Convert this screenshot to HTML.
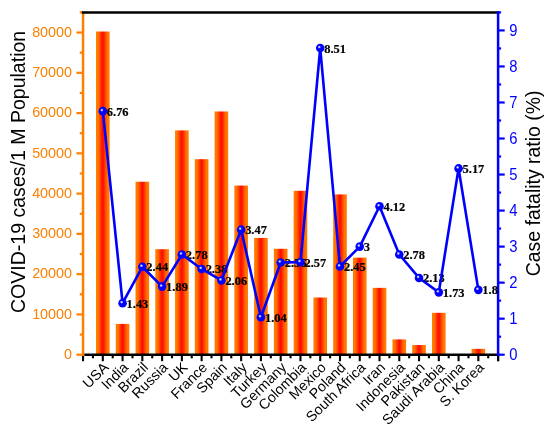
<!DOCTYPE html>
<html><head><meta charset="utf-8"><title>COVID-19 cases and case fatality ratio</title>
<style>html,body{margin:0;padding:0;background:#fff}svg{display:block}.sans{font-family:"Liberation Sans",Arial,sans-serif}.serif{font-family:"Liberation Serif","Times New Roman",serif;font-weight:bold}</style></head><body>
<svg width="550" height="427" viewBox="0 0 550 427">
<defs>
<linearGradient id="bg" x1="0" y1="0" x2="1" y2="0"><stop offset="0" stop-color="#ff7c00"/><stop offset="0.18" stop-color="#ff7200"/><stop offset="0.42" stop-color="#ff1e00"/><stop offset="0.5" stop-color="#ff0a00"/><stop offset="0.58" stop-color="#ff1e00"/><stop offset="0.82" stop-color="#ff7200"/><stop offset="1" stop-color="#ff7c00"/></linearGradient>
<radialGradient id="hl" cx="0.5" cy="0.5" r="0.5"><stop offset="0" stop-color="#ffffff" stop-opacity="0.95"/><stop offset="0.35" stop-color="#ffffff" stop-opacity="0.75"/><stop offset="1" stop-color="#ffffff" stop-opacity="0"/></radialGradient>
</defs>
<rect width="550" height="427" fill="#fff"/>
<g fill="url(#bg)">
<rect x="96.01" y="31.53" width="13.6" height="323.17"/>
<rect x="115.78" y="323.89" width="13.6" height="30.81"/>
<rect x="135.54" y="181.74" width="13.6" height="172.96"/>
<rect x="155.31" y="249.19" width="13.6" height="105.51"/>
<rect x="175.07" y="130.39" width="13.6" height="224.31"/>
<rect x="194.84" y="159.19" width="13.6" height="195.51"/>
<rect x="214.60" y="111.47" width="13.6" height="243.23"/>
<rect x="234.36" y="185.56" width="13.6" height="169.14"/>
<rect x="254.13" y="237.92" width="13.6" height="116.78"/>
<rect x="273.89" y="248.79" width="13.6" height="105.91"/>
<rect x="293.66" y="190.80" width="13.6" height="163.90"/>
<rect x="313.42" y="297.52" width="13.6" height="57.18"/>
<rect x="333.19" y="194.42" width="13.6" height="160.28"/>
<rect x="352.95" y="257.65" width="13.6" height="97.05"/>
<rect x="372.71" y="287.85" width="13.6" height="66.85"/>
<rect x="392.48" y="339.40" width="13.6" height="15.30"/>
<rect x="412.24" y="345.04" width="13.6" height="9.66"/>
<rect x="432.01" y="312.82" width="13.6" height="41.88"/>
<rect x="451.77" y="354.46" width="13.6" height="0.24"/>
<rect x="471.54" y="348.86" width="13.6" height="5.84"/>
</g>
<g stroke="#ff7f00" stroke-width="2.5" fill="none">
<line x1="83.05" y1="11.200000000000001" x2="83.05" y2="355.9"/>
<line x1="83.05" y1="354.70" x2="76.45" y2="354.70" stroke-width="2.2"/>
<line x1="83.05" y1="334.56" x2="79.75" y2="334.56" stroke-width="2.2"/>
<line x1="83.05" y1="314.43" x2="76.45" y2="314.43" stroke-width="2.2"/>
<line x1="83.05" y1="294.29" x2="79.75" y2="294.29" stroke-width="2.2"/>
<line x1="83.05" y1="274.16" x2="76.45" y2="274.16" stroke-width="2.2"/>
<line x1="83.05" y1="254.02" x2="79.75" y2="254.02" stroke-width="2.2"/>
<line x1="83.05" y1="233.89" x2="76.45" y2="233.89" stroke-width="2.2"/>
<line x1="83.05" y1="213.75" x2="79.75" y2="213.75" stroke-width="2.2"/>
<line x1="83.05" y1="193.62" x2="76.45" y2="193.62" stroke-width="2.2"/>
<line x1="83.05" y1="173.48" x2="79.75" y2="173.48" stroke-width="2.2"/>
<line x1="83.05" y1="153.35" x2="76.45" y2="153.35" stroke-width="2.2"/>
<line x1="83.05" y1="133.21" x2="79.75" y2="133.21" stroke-width="2.2"/>
<line x1="83.05" y1="113.08" x2="76.45" y2="113.08" stroke-width="2.2"/>
<line x1="83.05" y1="92.94" x2="79.75" y2="92.94" stroke-width="2.2"/>
<line x1="83.05" y1="72.81" x2="76.45" y2="72.81" stroke-width="2.2"/>
<line x1="83.05" y1="52.67" x2="79.75" y2="52.67" stroke-width="2.2"/>
<line x1="83.05" y1="32.54" x2="76.45" y2="32.54" stroke-width="2.2"/>
<line x1="83.05" y1="12.40" x2="79.75" y2="12.40" stroke-width="2.2"/>
</g>
<g stroke="#000" stroke-width="2.5" fill="none">
<line x1="81.85" y1="12.4" x2="499.3" y2="12.4"/>
<line x1="84.3" y1="354.7" x2="499.3" y2="354.7"/>
<line x1="83.05" y1="355.9" x2="83.05" y2="361.2" stroke-width="2.1"/>
<line x1="92.93" y1="355.9" x2="92.93" y2="358.3" stroke-width="2.1"/>
<line x1="102.81" y1="355.9" x2="102.81" y2="361.2" stroke-width="2.1"/>
<line x1="112.70" y1="355.9" x2="112.70" y2="358.3" stroke-width="2.1"/>
<line x1="122.58" y1="355.9" x2="122.58" y2="361.2" stroke-width="2.1"/>
<line x1="132.46" y1="355.9" x2="132.46" y2="358.3" stroke-width="2.1"/>
<line x1="142.34" y1="355.9" x2="142.34" y2="361.2" stroke-width="2.1"/>
<line x1="152.23" y1="355.9" x2="152.23" y2="358.3" stroke-width="2.1"/>
<line x1="162.11" y1="355.9" x2="162.11" y2="361.2" stroke-width="2.1"/>
<line x1="171.99" y1="355.9" x2="171.99" y2="358.3" stroke-width="2.1"/>
<line x1="181.87" y1="355.9" x2="181.87" y2="361.2" stroke-width="2.1"/>
<line x1="191.75" y1="355.9" x2="191.75" y2="358.3" stroke-width="2.1"/>
<line x1="201.64" y1="355.9" x2="201.64" y2="361.2" stroke-width="2.1"/>
<line x1="211.52" y1="355.9" x2="211.52" y2="358.3" stroke-width="2.1"/>
<line x1="221.40" y1="355.9" x2="221.40" y2="361.2" stroke-width="2.1"/>
<line x1="231.28" y1="355.9" x2="231.28" y2="358.3" stroke-width="2.1"/>
<line x1="241.16" y1="355.9" x2="241.16" y2="361.2" stroke-width="2.1"/>
<line x1="251.05" y1="355.9" x2="251.05" y2="358.3" stroke-width="2.1"/>
<line x1="260.93" y1="355.9" x2="260.93" y2="361.2" stroke-width="2.1"/>
<line x1="270.81" y1="355.9" x2="270.81" y2="358.3" stroke-width="2.1"/>
<line x1="280.69" y1="355.9" x2="280.69" y2="361.2" stroke-width="2.1"/>
<line x1="290.57" y1="355.9" x2="290.57" y2="358.3" stroke-width="2.1"/>
<line x1="300.46" y1="355.9" x2="300.46" y2="361.2" stroke-width="2.1"/>
<line x1="310.34" y1="355.9" x2="310.34" y2="358.3" stroke-width="2.1"/>
<line x1="320.22" y1="355.9" x2="320.22" y2="361.2" stroke-width="2.1"/>
<line x1="330.10" y1="355.9" x2="330.10" y2="358.3" stroke-width="2.1"/>
<line x1="339.99" y1="355.9" x2="339.99" y2="361.2" stroke-width="2.1"/>
<line x1="349.87" y1="355.9" x2="349.87" y2="358.3" stroke-width="2.1"/>
<line x1="359.75" y1="355.9" x2="359.75" y2="361.2" stroke-width="2.1"/>
<line x1="369.63" y1="355.9" x2="369.63" y2="358.3" stroke-width="2.1"/>
<line x1="379.51" y1="355.9" x2="379.51" y2="361.2" stroke-width="2.1"/>
<line x1="389.40" y1="355.9" x2="389.40" y2="358.3" stroke-width="2.1"/>
<line x1="399.28" y1="355.9" x2="399.28" y2="361.2" stroke-width="2.1"/>
<line x1="409.16" y1="355.9" x2="409.16" y2="358.3" stroke-width="2.1"/>
<line x1="419.04" y1="355.9" x2="419.04" y2="361.2" stroke-width="2.1"/>
<line x1="428.93" y1="355.9" x2="428.93" y2="358.3" stroke-width="2.1"/>
<line x1="438.81" y1="355.9" x2="438.81" y2="361.2" stroke-width="2.1"/>
<line x1="448.69" y1="355.9" x2="448.69" y2="358.3" stroke-width="2.1"/>
<line x1="458.57" y1="355.9" x2="458.57" y2="361.2" stroke-width="2.1"/>
<line x1="468.45" y1="355.9" x2="468.45" y2="358.3" stroke-width="2.1"/>
<line x1="478.34" y1="355.9" x2="478.34" y2="361.2" stroke-width="2.1"/>
<line x1="488.22" y1="355.9" x2="488.22" y2="358.3" stroke-width="2.1"/>
<line x1="498.10" y1="355.9" x2="498.10" y2="361.2" stroke-width="2.1"/>
</g>
<g stroke="#0000ff" stroke-width="2.5" fill="none">
<line x1="498.1" y1="11.200000000000001" x2="498.1" y2="355.9"/>
<line x1="498.1" y1="354.70" x2="504.70000000000005" y2="354.70" stroke-width="2.2"/>
<line x1="498.1" y1="336.68" x2="501.1" y2="336.68" stroke-width="2.2"/>
<line x1="498.1" y1="318.67" x2="504.70000000000005" y2="318.67" stroke-width="2.2"/>
<line x1="498.1" y1="300.65" x2="501.1" y2="300.65" stroke-width="2.2"/>
<line x1="498.1" y1="282.64" x2="504.70000000000005" y2="282.64" stroke-width="2.2"/>
<line x1="498.1" y1="264.62" x2="501.1" y2="264.62" stroke-width="2.2"/>
<line x1="498.1" y1="246.61" x2="504.70000000000005" y2="246.61" stroke-width="2.2"/>
<line x1="498.1" y1="228.59" x2="501.1" y2="228.59" stroke-width="2.2"/>
<line x1="498.1" y1="210.57" x2="504.70000000000005" y2="210.57" stroke-width="2.2"/>
<line x1="498.1" y1="192.56" x2="501.1" y2="192.56" stroke-width="2.2"/>
<line x1="498.1" y1="174.54" x2="504.70000000000005" y2="174.54" stroke-width="2.2"/>
<line x1="498.1" y1="156.53" x2="501.1" y2="156.53" stroke-width="2.2"/>
<line x1="498.1" y1="138.51" x2="504.70000000000005" y2="138.51" stroke-width="2.2"/>
<line x1="498.1" y1="120.49" x2="501.1" y2="120.49" stroke-width="2.2"/>
<line x1="498.1" y1="102.48" x2="504.70000000000005" y2="102.48" stroke-width="2.2"/>
<line x1="498.1" y1="84.46" x2="501.1" y2="84.46" stroke-width="2.2"/>
<line x1="498.1" y1="66.45" x2="504.70000000000005" y2="66.45" stroke-width="2.2"/>
<line x1="498.1" y1="48.43" x2="501.1" y2="48.43" stroke-width="2.2"/>
<line x1="498.1" y1="30.42" x2="504.70000000000005" y2="30.42" stroke-width="2.2"/>
<line x1="498.1" y1="12.40" x2="501.1" y2="12.40" stroke-width="2.2"/>
</g>
<line x1="498.10" y1="355.95" x2="498.10" y2="361.2" stroke="#000" stroke-width="2.2"/>
<g class="sans" font-size="14.3" fill="#ff7f00" text-anchor="end">
<text x="71.9" y="359.00">0</text>
<text x="71.9" y="318.73">10000</text>
<text x="71.9" y="278.46">20000</text>
<text x="71.9" y="238.19">30000</text>
<text x="71.9" y="197.92">40000</text>
<text x="71.9" y="157.65">50000</text>
<text x="71.9" y="117.38">60000</text>
<text x="71.9" y="77.11">70000</text>
<text x="71.9" y="36.84">80000</text>
</g>
<g class="sans" font-size="14.8" fill="#0000ff" text-anchor="start">
<text transform="translate(509.3,360.10) scale(1,1.07)">0</text>
<text transform="translate(509.3,324.07) scale(1,1.07)">1</text>
<text transform="translate(509.3,288.04) scale(1,1.07)">2</text>
<text transform="translate(509.3,252.01) scale(1,1.07)">3</text>
<text transform="translate(509.3,215.97) scale(1,1.07)">4</text>
<text transform="translate(509.3,179.94) scale(1,1.07)">5</text>
<text transform="translate(509.3,143.91) scale(1,1.07)">6</text>
<text transform="translate(509.3,107.88) scale(1,1.07)">7</text>
<text transform="translate(509.3,71.85) scale(1,1.07)">8</text>
<text transform="translate(509.3,35.82) scale(1,1.07)">9</text>
</g>
<g class="sans" font-size="14.3" fill="#000" text-anchor="end">
<text transform="translate(109.41,368.30) rotate(-45)">USA</text>
<text transform="translate(129.18,368.30) rotate(-45)">India</text>
<text transform="translate(148.94,368.30) rotate(-45)">Brazil</text>
<text transform="translate(168.71,368.30) rotate(-45)">Russia</text>
<text transform="translate(188.47,368.30) rotate(-45)">UK</text>
<text transform="translate(208.24,368.30) rotate(-45)">France</text>
<text transform="translate(228.00,368.30) rotate(-45)">Spain</text>
<text transform="translate(247.76,368.30) rotate(-45)">Italy</text>
<text transform="translate(267.53,368.30) rotate(-45)">Turkey</text>
<text transform="translate(287.29,368.30) rotate(-45)">Germany</text>
<text transform="translate(307.06,368.30) rotate(-45)">Colombia</text>
<text transform="translate(326.82,368.30) rotate(-45)">Mexico</text>
<text transform="translate(346.59,368.30) rotate(-45)">Poland</text>
<text transform="translate(366.35,368.30) rotate(-45)">South Africa</text>
<text transform="translate(386.11,368.30) rotate(-45)">Iran</text>
<text transform="translate(405.88,368.30) rotate(-45)">Indonesia</text>
<text transform="translate(425.64,368.30) rotate(-45)">Pakistan</text>
<text transform="translate(445.41,368.30) rotate(-45)">Saudi Arabia</text>
<text transform="translate(465.17,368.30) rotate(-45)">China</text>
<text transform="translate(484.94,368.30) rotate(-45)">S. Korea</text>
</g>
<text class="sans" font-size="19.55" fill="#000" text-anchor="middle" transform="translate(25.0,171.9) rotate(-90)">COVID-19 cases/1 M Population</text>
<text class="sans" font-size="19.45" fill="#000" text-anchor="middle" transform="translate(539.6,183.4) rotate(-90)">Case fatality ratio (%)</text>
<g class="serif" font-size="12.9" fill="#000" stroke="#000" stroke-width="0.2">
<text transform="translate(106.81,115.63) scale(0.965,1)">6.76</text>
<text transform="translate(126.58,307.67) scale(0.965,1)">1.43</text>
<text transform="translate(146.34,271.28) scale(0.965,1)">2.44</text>
<text transform="translate(166.11,291.10) scale(0.965,1)">1.89</text>
<text transform="translate(185.87,259.03) scale(0.965,1)">2.78</text>
<text transform="translate(205.64,273.44) scale(0.965,1)">2.38</text>
<text transform="translate(225.40,284.97) scale(0.965,1)">2.06</text>
<text transform="translate(245.16,234.17) scale(0.965,1)">3.47</text>
<text transform="translate(264.93,321.73) scale(0.965,1)">1.04</text>
<text transform="translate(284.69,266.96) scale(0.965,1)">2.56</text>
<text transform="translate(304.46,266.60) scale(0.965,1)">2.57</text>
<text transform="translate(324.22,52.57) scale(0.965,1)">8.51</text>
<text transform="translate(343.99,270.92) scale(0.965,1)">2.45</text>
<text transform="translate(363.75,251.11) scale(0.965,1)">3</text>
<text transform="translate(383.51,210.75) scale(0.965,1)">4.12</text>
<text transform="translate(403.28,259.03) scale(0.965,1)">2.78</text>
<text transform="translate(423.04,282.45) scale(0.965,1)">2.13</text>
<text transform="translate(442.81,296.87) scale(0.965,1)">1.73</text>
<text transform="translate(462.57,172.92) scale(0.965,1)">5.17</text>
<text transform="translate(482.34,294.34) scale(0.965,1)">1.8</text>
</g>
<polyline points="102.81,111.13 122.58,303.17 142.34,266.78 162.11,286.60 181.87,254.53 201.64,268.94 221.40,280.47 241.16,229.67 260.93,317.23 280.69,262.46 300.46,262.10 320.22,48.07 339.99,266.42 359.75,246.61 379.51,206.25 399.28,254.53 419.04,277.95 438.81,292.37 458.57,168.42 478.34,289.84" fill="none" stroke="#0000ff" stroke-width="2.6" stroke-linejoin="round"/>
<g>
<circle cx="102.81" cy="111.13" r="4.3" fill="#0000ff"/><circle cx="101.86" cy="110.08" r="1.8" fill="url(#hl)"/>
<circle cx="122.58" cy="303.17" r="4.3" fill="#0000ff"/><circle cx="121.63" cy="302.12" r="1.8" fill="url(#hl)"/>
<circle cx="142.34" cy="266.78" r="4.3" fill="#0000ff"/><circle cx="141.39" cy="265.73" r="1.8" fill="url(#hl)"/>
<circle cx="162.11" cy="286.60" r="4.3" fill="#0000ff"/><circle cx="161.16" cy="285.55" r="1.8" fill="url(#hl)"/>
<circle cx="181.87" cy="254.53" r="4.3" fill="#0000ff"/><circle cx="180.92" cy="253.48" r="1.8" fill="url(#hl)"/>
<circle cx="201.64" cy="268.94" r="4.3" fill="#0000ff"/><circle cx="200.69" cy="267.89" r="1.8" fill="url(#hl)"/>
<circle cx="221.40" cy="280.47" r="4.3" fill="#0000ff"/><circle cx="220.45" cy="279.42" r="1.8" fill="url(#hl)"/>
<circle cx="241.16" cy="229.67" r="4.3" fill="#0000ff"/><circle cx="240.21" cy="228.62" r="1.8" fill="url(#hl)"/>
<circle cx="260.93" cy="317.23" r="4.3" fill="#0000ff"/><circle cx="259.98" cy="316.18" r="1.8" fill="url(#hl)"/>
<circle cx="280.69" cy="262.46" r="4.3" fill="#0000ff"/><circle cx="279.74" cy="261.41" r="1.8" fill="url(#hl)"/>
<circle cx="300.46" cy="262.10" r="4.3" fill="#0000ff"/><circle cx="299.51" cy="261.05" r="1.8" fill="url(#hl)"/>
<circle cx="320.22" cy="48.07" r="4.3" fill="#0000ff"/><circle cx="319.27" cy="47.02" r="1.8" fill="url(#hl)"/>
<circle cx="339.99" cy="266.42" r="4.3" fill="#0000ff"/><circle cx="339.04" cy="265.37" r="1.8" fill="url(#hl)"/>
<circle cx="359.75" cy="246.61" r="4.3" fill="#0000ff"/><circle cx="358.80" cy="245.56" r="1.8" fill="url(#hl)"/>
<circle cx="379.51" cy="206.25" r="4.3" fill="#0000ff"/><circle cx="378.56" cy="205.20" r="1.8" fill="url(#hl)"/>
<circle cx="399.28" cy="254.53" r="4.3" fill="#0000ff"/><circle cx="398.33" cy="253.48" r="1.8" fill="url(#hl)"/>
<circle cx="419.04" cy="277.95" r="4.3" fill="#0000ff"/><circle cx="418.09" cy="276.90" r="1.8" fill="url(#hl)"/>
<circle cx="438.81" cy="292.37" r="4.3" fill="#0000ff"/><circle cx="437.86" cy="291.32" r="1.8" fill="url(#hl)"/>
<circle cx="458.57" cy="168.42" r="4.3" fill="#0000ff"/><circle cx="457.62" cy="167.37" r="1.8" fill="url(#hl)"/>
<circle cx="478.34" cy="289.84" r="4.3" fill="#0000ff"/><circle cx="477.39" cy="288.79" r="1.8" fill="url(#hl)"/>
</g>
</svg></body></html>
